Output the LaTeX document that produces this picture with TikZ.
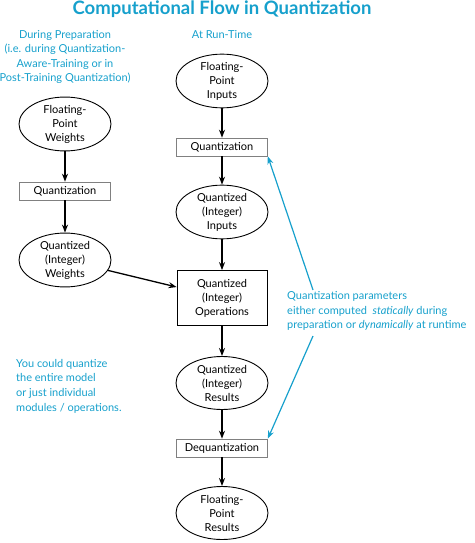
\documentclass[tikz,border=0pt]{standalone}
\usepackage{fontspec}
\setmainfont{Lato}
\usepackage{xcolor}
\usetikzlibrary{shapes.geometric, arrows.meta}
\definecolor{qcyan}{RGB}{22,160,204}

\begin{document}
\begin{tikzpicture}[x=1pt, y=-1pt,
        state/.style = {ellipse, draw, line width=0.9pt, minimum width=92pt, minimum height=53pt, inner sep=0pt, align=center, font=\fontsize{11}{14}\selectfont},
        stepbox/.style = {rectangle, draw=gray, line width=0.6pt, minimum width=91pt, minimum height=18pt, inner sep=0pt, font=\fontsize{11}{14}\selectfont},
        opbox/.style = {rectangle, draw, line width=0.8pt, minimum width=90pt, minimum height=55pt, inner sep=0pt, align=center, font=\fontsize{11}{14}\selectfont},
        note/.style = {text=qcyan, inner sep=0pt, font=\fontsize{11}{14.6}\selectfont},
        flow/.style = {-{Stealth[length=8pt, width=6pt]}, line width=1.3pt},
        hint/.style = {-{Stealth[length=8pt, width=6pt]}, draw=qcyan, line width=1.2pt}]
        \useasboundingbox (0, 0) rectangle (474, 543);
        \node (title) at (222, 9) [text=qcyan, font=\fontsize{18.5}{20}\selectfont\bfseries] {Computational Flow in Quantization};
        \node (prep) at (65, 57) [note, align=center] {During Preparation\\(i.e. during Quantization-\\Aware-Training or in\\Post-Training Quantization)};
        \node (run) at (222, 35) [note] {At Run-Time};
        % run-time column
        \node (1) at (222, 81) [state] {Floating-\\Point\\Inputs};
        \node (2) at (222, 147) [stepbox] {Quantization};
        \node (3) at (222, 212) [state] {Quantized\\(Integer)\\Inputs};
        \node (4) at (222, 298) [opbox] {Quantized\\(Integer)\\Operations};
        \node (5) at (222, 383) [state] {Quantized\\(Integer)\\Results};
        \node (6) at (222, 448) [stepbox] {Dequantization};
        \node (7) at (222, 513) [state] {Floating-\\Point\\Results};
        % preparation column
        \node (8) at (65, 124) [state] {Floating-\\Point\\Weights};
        \node (9) at (65, 191) [stepbox] {Quantization};
        \node (10) at (65, 260) [state] {Quantized\\(Integer)\\Weights};
        % notes
        \node (params) at (287, 311) [note, anchor=west, align=left] {Quantization parameters\\either computed \ \textit{statically} during\\preparation or \textit{dynamically} at runtime};
        \node (model) at (16, 386) [note, anchor=west, align=left] {You could quantize\\the entire model\\or just individual\\modules / operations.};
        \coordinate (up) at (313, 290);
        \coordinate (down) at (313, 336);
        \draw [flow] (1) -- (2);
        \draw [flow] (2) -- (3);
        \draw [flow] (3) -- (4);
        \draw [flow] (4) -- (5);
        \draw [flow] (5) -- (6);
        \draw [flow] (6) -- (7);
        \draw [flow] (8) -- (9);
        \draw [flow] (9) -- (10);
        \draw [flow] (10) -- (4);
        \draw [hint] (up) -- (2.south east);
        \draw [hint] (down) -- (6.north east);
    \end{tikzpicture}
\end{document}
